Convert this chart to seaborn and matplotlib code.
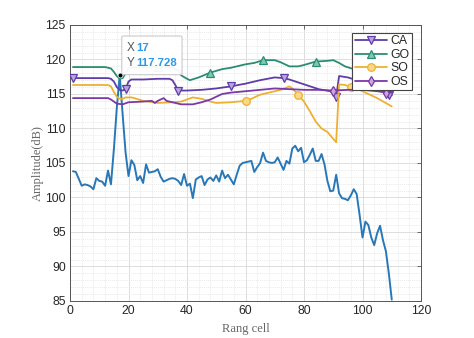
import numpy as np
import pandas as pd
import matplotlib
matplotlib.use("Agg")
import matplotlib.pyplot as plt
from matplotlib.patches import FancyBboxPatch
from matplotlib.ticker import MultipleLocator
import seaborn as sns

# ---------------- data ----------------
sig_x = list(range(1, 111))
sig_y = [103.8, 103.7, 102.7, 101.7, 101.9, 101.8, 101.6, 101.2, 102.8, 102.4,
         102.3, 101.7, 103.9, 101.9, 107.0, 113.0, 117.728, 112.0, 106.5, 103.1,
         105.4, 104.7, 102.5, 103.1, 102.1, 104.8, 103.6, 103.7, 103.8, 104.1,
         103.0, 102.3, 102.5, 102.7, 102.8, 102.7, 102.4, 101.8, 103.4, 101.7,
         102.0, 99.9, 102.6, 102.9, 103.1, 101.8, 102.6, 102.9, 102.4, 103.2,
         102.3, 103.9, 102.8, 103.3, 102.6, 101.9, 103.3, 104.6, 105.0, 105.1,
         105.2, 105.3, 103.7, 104.4, 105.0, 106.5, 105.3, 105.1, 105.0, 105.1,
         105.8, 104.9, 104.0, 105.3, 104.9, 107.1, 107.5, 106.7, 107.2, 105.1,
         105.4, 106.2, 107.1, 105.3, 105.3, 106.3, 104.8, 102.4, 100.9, 101.0,
         103.3, 100.6, 99.9, 99.8, 99.6, 100.3, 101.2, 100.5, 97.5, 94.2,
         96.5, 96.0, 94.2, 93.1, 94.8, 95.9, 93.8, 92.2, 89.0, 85.2]

ca_x = [1, 13, 14, 15, 16, 17, 18, 19, 20, 21, 25, 30, 34, 35, 36, 37, 40, 45, 50, 55,
        60, 65, 70, 73, 75, 80, 85, 89, 90, 91, 92, 95, 98, 102, 105, 108, 109, 110]
ca_y = [117.3, 117.3, 117.2, 116.8, 116.0, 115.6, 115.5, 115.7, 116.8, 117.1, 117.1,
        117.2, 117.2, 117.0, 116.3, 115.5, 115.5, 115.6, 115.8, 116.1, 116.5, 117.0,
        117.4, 117.3, 117.1, 116.4, 115.7, 115.4, 115.1, 114.6, 117.6, 117.4, 117.0,
        116.5, 116.0, 115.2, 114.9, 114.8]
ca_marks = [1, 19, 37, 55, 73, 91, 109]

go_x = [1, 12, 14, 15, 16, 17, 18, 19, 20, 25, 30, 35, 37, 38, 40, 41, 44, 48, 52, 55,
        60, 63, 66, 70, 72, 75, 78, 80, 84, 88, 90, 92, 94, 97, 100, 105, 110]
go_y = [118.9, 118.9, 118.7, 118.2, 117.6, 117.2, 117.3, 118.0, 118.8, 118.9, 118.9,
        118.9, 118.4, 117.7, 117.2, 117.0, 117.4, 118.1, 118.6, 118.8, 119.3, 119.5,
        119.9, 119.9, 119.6, 119.0, 119.0, 119.2, 119.7, 119.8, 119.9, 119.5, 119.0,
        118.6, 118.3, 118.0, 117.8]
go_marks = [30, 48, 66, 84, 100]

so_x = [1, 13, 14, 15, 16, 17, 18, 19, 21, 22, 25, 30, 35, 38, 40, 42, 45, 48, 50, 55,
        60, 62, 65, 70, 72, 75, 76, 78, 80, 82, 84, 86, 88, 90, 91, 92, 94, 96, 98, 100,
        105, 110]
so_y = [116.3, 116.3, 116.1, 115.3, 114.6, 114.3, 114.3, 114.5, 114.5, 114.4, 114.0,
        113.7, 113.8, 113.9, 114.2, 114.5, 114.3, 113.9, 113.7, 113.8, 114.0, 114.3,
        114.9, 115.4, 115.6, 116.1, 115.8, 114.9, 113.9, 112.5, 111.0, 110.0, 109.5,
        108.5, 108.0, 116.4, 116.3, 116.0, 115.8, 115.4, 114.4, 113.2]
so_marks = [60, 78, 96]

os_x = [1, 13, 14, 15, 16, 18, 20, 25, 28, 29, 30, 32, 33, 35, 38, 42, 45, 48, 52, 55,
        60, 65, 70, 75, 80, 85, 90, 95, 100, 105, 108, 110]
os_y = [114.4, 114.4, 114.2, 113.9, 113.6, 113.5, 113.8, 113.9, 114.0, 113.7, 114.0,
        114.4, 114.0, 113.8, 113.5, 113.5, 113.8, 114.2, 115.0, 115.2, 115.4, 115.6,
        115.8, 115.7, 115.6, 115.6, 115.5, 115.6, 115.6, 115.4, 115.2, 115.2]
os_marks = [90, 108]

tip_x, tip_y = 17, 117.728

# ---------------- style ----------------
sns.set_theme(style="white")
plt.rcParams["font.family"] = ["Liberation Sans", "DejaVu Sans"]

fig = plt.figure(figsize=(4.74, 3.38), dpi=100)
ax = fig.add_axes([0.1477, 0.1095, 0.7405, 0.8166])

c_sig = "#2878b8"
c_ca = "#5f3ca8"
c_go = "#2a8c72"
c_so = "#eeb030"
c_os = "#7a38a8"

sns.lineplot(x=sig_x, y=sig_y, ax=ax, color=c_sig, lw=1.4, zorder=3)

series = [
    ("CA", ca_x, ca_y, ca_marks, c_ca, "v", "#b9a6e0"),
    ("GO", go_x, go_y, go_marks, c_go, "^", "#7fc8b2"),
    ("SO", so_x, so_y, so_marks, c_so, "o", "#f8d98c"),
    ("OS", os_x, os_y, os_marks, c_os, "d", "#c9a6dc"),
]
for name, xs, ys, mk, col, m, fc in series:
    idx = [xs.index(v) for v in mk]
    sns.lineplot(x=xs, y=ys, ax=ax, color=col, lw=1.3, marker=m, markersize=5.5,
                 markevery=idx, markerfacecolor=fc, markeredgecolor=col,
                 markeredgewidth=0.9, zorder=4, label=name)

ax.set_xlim(0, 120)
ax.set_ylim(85, 125)
ax.xaxis.set_major_locator(MultipleLocator(20))
ax.yaxis.set_major_locator(MultipleLocator(5))
ax.xaxis.set_minor_locator(MultipleLocator(4))
ax.yaxis.set_minor_locator(MultipleLocator(1))
ax.grid(True, which="major", color="#d8d8d8", lw=0.6, ls="-")
ax.grid(True, which="minor", color="#e2e2e2", lw=0.5, ls=(0, (1.5, 1.5)))
ax.set_axisbelow(True)
for s in ax.spines.values():
    s.set_color("#555555")
    s.set_linewidth(0.7)
ax.tick_params(which="major", direction="in", length=3, width=0.6, color="#555555",
               top=True, right=True, labelsize=8.8, labelcolor="#262626", pad=3)
ax.tick_params(which="minor", length=0, top=True, right=True)

ax.set_xlabel("Rang cell", family=["Liberation Serif", "DejaVu Serif"], fontsize=9,
              color="#666666", labelpad=4)
ax.set_ylabel("Amplitude(dB)", family=["Liberation Serif", "DejaVu Serif"], fontsize=9,
              color="#666666", labelpad=1)

leg = ax.legend(loc="upper right", bbox_to_anchor=(0.974, 0.971), fontsize=8.8,
                frameon=True, fancybox=False, edgecolor="#444444", framealpha=1,
                handlelength=2.6, handletextpad=0.3, borderpad=0.2, labelspacing=0.12,
                borderaxespad=0)
leg.get_frame().set_linewidth(0.8)
leg.set_zorder(10)

# data tip
box = FancyBboxPatch((17.7, 117.8), 20.6, 5.6, boxstyle="round,pad=0,rounding_size=0.6",
                     transform=ax.transData, facecolor="white", edgecolor="#c8c8c8",
                     lw=0.8, alpha=0.95, zorder=8, mutation_aspect=0.3)
ax.add_patch(box)
ax.plot([tip_x], [tip_y], "o", color="black", markersize=3.5, markeredgecolor="white",
        markeredgewidth=0.5, zorder=9)
ax.text(19.3, 121.7, "X", color="#555555", fontsize=8.5, va="center", zorder=9)
ax.text(22.8, 121.7, f"{tip_x}", color="#2a9ae8", fontsize=8.2, fontweight="bold",
        va="center", zorder=9)
ax.text(19.3, 119.5, "Y", color="#555555", fontsize=8.5, va="center", zorder=9)
ax.text(22.8, 119.5, f"{tip_y}", color="#2a9ae8", fontsize=8.2, fontweight="bold",
        va="center", zorder=9)

fig.savefig("out.png", dpi=100)
